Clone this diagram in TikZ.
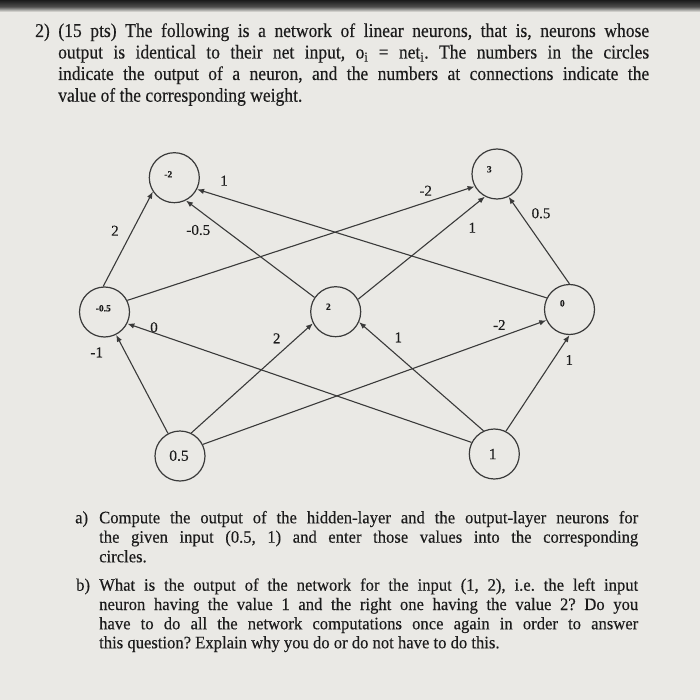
\documentclass[tikz,border=0pt]{standalone}
\usepackage{fontspec}
\setmainfont[FakeBold=0.25]{Liberation Serif}
\newfontfamily\topfont[FakeStretch=0.9,FakeBold=0.3]{Liberation Serif}
\newfontfamily\qfont[FakeStretch=0.95,FakeBold=0.3]{Liberation Serif}
\usetikzlibrary{arrows.meta}
\frenchspacing
\definecolor{paper}{RGB}{234,233,229}
\definecolor{ink}{RGB}{28,28,28}
\definecolor{wirecol}{RGB}{58,58,58}
\definecolor{bandcol}{RGB}{28,28,28}
\tikzset{
  neuron/.style={circle, draw=wirecol, line width=1.2pt, minimum size=50pt, inner sep=0pt},
  wire/.style={draw=wirecol, line width=1.1pt, -{Latex[length=7pt,width=5.5pt]}},
  wlabel/.style={font=\fontsize{15}{15}\selectfont, text=ink, inner sep=0pt},
  nlabel/.style={font=\fontsize{9.5}{9.5}\selectfont\bfseries, text=ink, inner sep=0pt},
  ilabel/.style={font=\fontsize{15.5}{15.5}\selectfont, text=ink, inner sep=0pt},
  bodyline/.style={anchor=base west, inner sep=0pt, text=ink, font=\topfont\fontsize{19.5}{21.7}\selectfont},
  qline/.style={anchor=base west, inner sep=0pt, text=ink, font=\qfont\fontsize{17.5}{19.5}\selectfont}
}
\begin{document}
\begin{tikzpicture}[x=1pt,y=-1pt]
  \useasboundingbox (0,0) rectangle (700,700);
  \fill[paper] (0,0) rectangle (700,700);
  \shade[top color=bandcol, bottom color=bandcol!70!paper] (0,0) rectangle (700,8);
  \shade[top color=bandcol!55!paper, bottom color=paper] (0,8) rectangle (700,12);

  % question text
  \node[bodyline] (q1) at (35,37) {\makebox[614pt][s]{2) (15 pts) The following is a network of linear neurons, that is, neurons whose}};
  \node[bodyline] (q2) at (58,58.5) {\makebox[591pt][s]{output is identical to their net input, o\textsubscript{i} = net\textsubscript{i}. The numbers in the circles}};
  \node[bodyline] (q3) at (58,80) {\makebox[591pt][s]{indicate the output of a neuron, and the numbers at connections indicate the}};
  \node[bodyline] (q4) at (58,101.7) {value of the corresponding weight.};

  % neurons
  \node[neuron] (TL) at (174.3,177.7) {};
  \node[neuron] (TR) at (497,174) {};
  \node[neuron] (L) at (104.5,312) {};
  \node[neuron] (M) at (335.7,311.7) {};
  \node[neuron] (R) at (569.5,309.5) {};
  \node[neuron] (BL) at (180,456) {};
  \node[neuron] (BR) at (494.3,454) {};

  % values in circles
  \node[nlabel] (TLv) at (168.3,174.3) {-2};
  \node[nlabel] (TRv) at (489.3,169.3) {3};
  \node[nlabel] (Lv) at (103.3,308.3) {-0.5};
  \node[nlabel] (Mv) at (328.3,306.7) {2};
  \node[nlabel] (Rv) at (562.3,303.3) {0};
  \node[ilabel] (BLv) at (179,455.7) {0.5};
  \node[ilabel] (BRv) at (492.7,454) {1};

  % connections
  \draw[wire] (L.93) -- (TL.213);
  \draw[wire] (M.146) -- (TL.297);
  \draw[wire] (R.153) -- (TL.333);
  \draw[wire] (L.27) -- (TR.209);
  \draw[wire] (M.29) -- (TR.242);
  \draw[wire] (R.90) -- (TR.297);
  \draw[wire] (BL.118) -- (L.297);
  \draw[wire] (BR.153) -- (L.333);
  \draw[wire] (BL.64) -- (M.207);
  \draw[wire] (BL.27) -- (R.205);
  \draw[wire] (BR.115) -- (M.336);
  \draw[wire] (BR.63) -- (R.270);

  % weights
  \node[wlabel] (w1) at (115,230.7) {2};
  \node[wlabel] (w2) at (198.3,230) {-0.5};
  \node[wlabel] (w3) at (224,180.7) {1};
  \node[wlabel] (w4) at (425.7,190.7) {-2};
  \node[wlabel] (w5) at (472.3,227.7) {1};
  \node[wlabel] (w6) at (541,213.3) {0.5};
  \node[wlabel] (w7) at (154,327.3) {0};
  \node[wlabel] (w8) at (96.7,352.3) {-1};
  \node[wlabel] (w9) at (276.7,338.3) {2};
  \node[wlabel] (w10) at (398.3,337.3) {1};
  \node[wlabel] (w11) at (499.3,325) {-2};
  \node[wlabel] (w12) at (569.3,360) {1};

  % sub-questions
  \node[qline] (a0) at (75,523.3) {a)};
  \node[qline] (a1) at (99,523.3) {\makebox[539pt][s]{Compute the output of the hidden-layer and the output-layer neurons for}};
  \node[qline] (a2) at (99,542.7) {\makebox[539pt][s]{the given input (0.5, 1) and enter those values into the corresponding}};
  \node[qline] (a3) at (99,562.3) {circles.};
  \node[qline] (b0) at (76,590.7) {b)};
  \node[qline] (b1) at (99,590.7) {\makebox[539pt][s]{What is the output of the network for the input (1, 2), i.e. the left input}};
  \node[qline] (b2) at (99,610) {\makebox[539pt][s]{neuron having the value 1 and the right one having the value 2? Do you}};
  \node[qline] (b3) at (99,629.3) {\makebox[539pt][s]{have to do all the network computations once again in order to answer}};
  \node[qline] (b4) at (99,648.3) {this question? Explain why you do or do not have to do this.};
\end{tikzpicture}
\end{document}
